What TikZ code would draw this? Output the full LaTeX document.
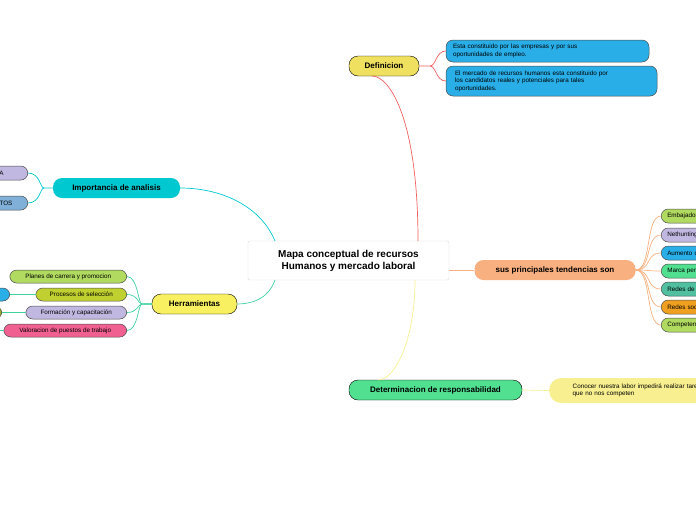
\documentclass[tikz,border=0pt]{standalone}
\usepackage{fontspec}
\setmainfont{Liberation Sans}
\begin{document}
\begin{tikzpicture}[x=1pt,y=-1pt,
 box/.style={rounded corners=7pt,draw=black!70,line width=0.5pt,font=\fontsize{6.3}{7.5}\selectfont,inner sep=0pt},
 big/.style={rounded corners=9pt,font=\fontsize{8}{9}\selectfont\bfseries,inner sep=0pt},
 lk/.style={line width=0.7pt}]
\useasboundingbox (0,0) rectangle (696,520);
\clip (0,0) rectangle (696,520);
\definecolor{cyanb}{HTML}{29AEE8}
\definecolor{gr}{HTML}{B0DA60}
\definecolor{lav}{HTML}{C0B8E0}
\definecolor{mint}{HTML}{50E090}
\definecolor{teal}{HTML}{50C0A0}
\definecolor{org}{HTML}{F0A020}
% center
\node[draw=black!15,rounded corners=2pt,minimum width=201pt,minimum height=39pt,align=center,font=\fontsize{10}{12}\selectfont\bfseries] (c) at (348.5,260.5) {Mapa conceptual de recursos\\Humanos y mercado laboral};
% main
\node[big,draw=black,fill={rgb,255:red,240;green,224;blue,96},minimum width=70pt,minimum height=20pt] (def) at (384,66) {Definicion};
\node[big,fill={rgb,255:red,248;green,176;blue,128},minimum width=161pt,minimum height=20pt] (ten) at (555,270) {sus principales tendencias son};
\node[big,draw=black,fill=mint,minimum width=173pt,minimum height=20pt] (det) at (435.5,390) {Determinacion de responsabilidad};
\node[big,fill={rgb,255:red,0;green,200;blue,208},minimum width=127pt,minimum height=20pt] (imp) at (116.5,188) {Importancia de analisis};
\node[big,draw=black,fill={rgb,255:red,248;green,240;blue,96},minimum width=85pt,minimum height=20pt] (her) at (194.5,304) {Herramientas};
\draw[lk,draw={rgb,255:red,240;green,96;blue,96}] (418,241) .. controls (418,120) and (390,76) .. (372,76);
\draw[lk,draw={rgb,255:red,248;green,176;blue,128}] (449,270) -- (ten.west);
\draw[lk,draw={rgb,255:red,248;green,240;blue,144}] (415,280) .. controls (415,340) and (395,380) .. (378,380);
\draw[lk,draw={rgb,255:red,0;green,200;blue,208}] (275,241) .. controls (260,205) and (220,188) .. (imp.east);
\draw[lk,draw={rgb,255:red,64;green,208;blue,160}] (275,280) .. controls (268,300) and (250,304) .. (her.east);
% definicion children
\node[box,fill=cyanb,minimum width=203pt,minimum height=22pt,text width=189pt,align=left] (d1) at (547.5,51) {Esta constituido por las empresas y por sus\\oportunidades de empleo.};
\node[box,fill=cyanb,minimum width=211pt,minimum height=30pt,text width=193pt,align=left] (d2) at (551.5,81) {El mercado de recursos humanos esta constituido por\\los candidatos reales y potenciales para tales\\oportunidades.};
\draw[lk,draw={rgb,255:red,240;green,96;blue,96}] (def.east) -- (430,66) .. controls (436,66) and (436,51) .. (d1.west);
\draw[lk,draw={rgb,255:red,240;green,96;blue,96}] (430,66) .. controls (436,66) and (436,81) .. (d2.west);
% tendencias children
\foreach \y/\col/\t [count=\i] in {216/gr/Embajadores de marca,235/lav/Nethunting,253/cyanb/Aumento de la demanda,271/mint/Marca personal,289/teal/Redes de contactos,307/org/Redes sociales,325/gr/Competencias}{
 \node[box,fill=\col,minimum width=90pt,minimum height=14pt,anchor=west,text width=78pt,align=left] (t\i) at (661,\y) {\t};
 \draw[lk,draw={rgb,255:red,248;green,176;blue,128}] (ten.east) .. controls (652,270) and (645,\y) .. (t\i.west);
}
% determinacion child
\node[rounded corners=12pt,fill={rgb,255:red,248;green,240;blue,144},minimum width=200pt,minimum height=25pt,anchor=west,text width=185pt,align=left,font=\fontsize{6.3}{7.5}\selectfont,inner sep=0pt] (k) at (549,390.5) {\hspace*{16pt}Conocer nuestra labor impedirá realizar tareas\\\hspace*{16pt}que no nos competen};
\draw[lk,draw={rgb,255:red,248;green,240;blue,144}] (det.east) -- (k.west);
% importancia children
\node[box,fill=lav,minimum width=80pt,minimum height=14pt,anchor=east] (i1) at (28,173) {\hfill RELEVANCIA\hspace*{8pt}};
\node[box,fill={rgb,255:red,128;green,176;blue,216},minimum width=80pt,minimum height=14pt,anchor=east] (i2) at (28,203) {\hfill PROCEDIMIENTOS\hspace*{8pt}};
\draw[lk,draw={rgb,255:red,0;green,200;blue,208}] (imp.west) -- (44,188) .. controls (40,188) and (40,173) .. (i1.east);
\draw[lk,draw={rgb,255:red,0;green,200;blue,208}] (44,188) .. controls (40,188) and (40,203) .. (i2.east);
% herramientas children
\foreach \y/\w/\col/\t [count=\i] in {276.5/117/gr/Planes de carrera y promocion,294.5/91/{rgb,255:red,192;green,208;blue,48}/Procesos de selección,312.5/101/lav/Formación y capacitación,330.5/123/{rgb,255:red,240;green,96;blue,144}/Valoracion de puestos de trabajo}{
 \node[box,fill=\col,minimum width=\w pt,minimum height=13pt,anchor=east] (h\i) at (127,\y) {\t};
 \draw[lk,draw={rgb,255:red,64;green,208;blue,160}] (her.west) -- (142,304) .. controls (138,304) and (138,\y) .. (h\i.east);
}
\node[box,fill=cyanb,minimum width=40pt,minimum height=13pt,anchor=east] (p1) at (10,294.5) {};
\node[box,fill={rgb,255:red,150;green,170;blue,40},minimum width=40pt,minimum height=13pt,anchor=east] (p2) at (2,312.5) {};
\coordinate (p3) at (0,330.5);
\draw[lk,draw={rgb,255:red,64;green,208;blue,160}] (h2.west) -- (p1.east);
\draw[lk,draw={rgb,255:red,64;green,208;blue,160}] (h3.west) -- (p2.east);
\draw[lk,draw={rgb,255:red,64;green,208;blue,160}] (h4.west) -- (p3);
\end{tikzpicture}
\end{document}
